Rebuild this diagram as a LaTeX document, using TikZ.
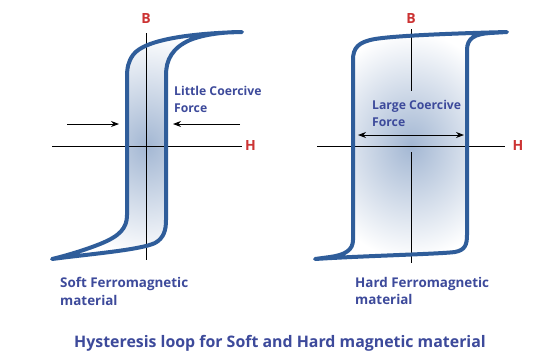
\documentclass[tikz,border=0pt]{standalone}
\usepackage{fontspec}
\setmainfont{Open Sans}
\usetikzlibrary{arrows.meta}
\definecolor{loopblue}{HTML}{2F5D9A}
\definecolor{txtblue}{HTML}{3D4A9B}
\definecolor{axred}{HTML}{CC3333}
\definecolor{shadeblue}{HTML}{A3B7D3}
\tikzset{
  axis/.style={draw=black, line width=0.9pt},
  loopline/.style={draw=loopblue, line width=4pt, line join=round, line cap=round},
  axlabel/.style={text=axred, font=\bfseries\fontsize{14}{16}\selectfont, inner sep=0pt, anchor=base},
  bluetext/.style={text=txtblue, font=\bfseries\fontsize{12.2}{16.4}\selectfont, inner sep=0pt, anchor=north west, align=left},
  sublabel/.style={text=txtblue, font=\bfseries\fontsize{13.4}{17.6}\selectfont, inner sep=0pt, anchor=north west, align=left},
  coarrow/.style={draw=black, line width=0.9pt, -{Stealth[length=8pt,width=6pt]}},
}
\begin{document}
\begin{tikzpicture}[x=1pt,y=-1pt]
\useasboundingbox[fill=white] (0,0) rectangle (560,357);
% ---------- soft loop ----------
\def\softloop{(52,259) .. controls (90,254) and (140,250) .. (155,243) .. controls (164,238) and (166,230) .. (166,220) -- (166,75) .. controls (166,60) and (172,48) .. (190,40) .. controls (205,34) and (225,32) .. (242,32) .. controls (200,33) and (145,38) .. (133,55) .. controls (128,62) and (127,68) .. (127,78) -- (127,215) .. controls (127,228) and (120,236) .. (100,244) .. controls (85,250) and (65,256) .. (52,259) -- cycle}
\shade[inner color=shadeblue, outer color=white] \softloop;
\coordinate (sBt) at (146,33);
\coordinate (sBb) at (146,260);
\coordinate (sHl) at (52,146);
\coordinate (sHr) at (242,146);
\draw[axis] (sBt) -- (sBb);
\draw[axis] (sHl) -- (sHr);
\draw[loopline] \softloop;
\node[axlabel] (sB) at (146,23.3) {B};
\node[axlabel] (sH) at (250.5,150.7) {H};
\coordinate (sA1) at (67,124);
\coordinate (sA1e) at (119,124);
\coordinate (sA2) at (240,124);
\coordinate (sA2e) at (173,124);
\draw[coarrow] (sA1) -- (sA1e);
\draw[coarrow] (sA2) -- (sA2e);
\node[bluetext] (little) at (174,86.5) {Little Coercive\\Force};
\node[sublabel] (soft) at (60,277) {Soft Ferromagnetic\\material};
% ---------- hard loop ----------
\def\hardloop{(315,259) .. controls (360,256) and (440,254) .. (455,252) .. controls (465,250) and (467,245) .. (467,235) -- (467,50) .. controls (467,38) and (475,34) .. (490,33) -- (507,32) .. controls (470,33) and (400,35) .. (375,39) .. controls (358,42) and (353,48) .. (353,60) -- (353,240) .. controls (353,250) and (345,255) .. (330,257) -- cycle}
\shade[inner color=shadeblue, outer color=white] \hardloop;
\coordinate (hBt) at (411,29);
\coordinate (hBm1) at (411,91);
\coordinate (hBm2) at (411,152);
\coordinate (hBb) at (411,263);
\coordinate (hHl) at (317,146);
\coordinate (hHr) at (505,146);
\draw[axis] (hBt) -- (hBm1);
\draw[axis] (hBm2) -- (hBb);
\draw[axis] (hHl) -- (hHr);
\draw[loopline] \hardloop;
\node[axlabel] (hB) at (411,23.3) {B};
\node[axlabel] (hH) at (518,150.5) {H};
\coordinate (hAl) at (358,135);
\coordinate (hAr) at (464,135);
\draw[coarrow, {Stealth[length=8pt,width=6pt]}-{Stealth[length=8pt,width=6pt]}] (hAl) -- (hAr);
\node[bluetext] (large) at (372,100.5) {Large Coercive\\Force};
\node[sublabel] (hard) at (355,277) {Hard Ferromagnetic\\material};
% ---------- title ----------
\node[text=txtblue, font=\bfseries\fontsize{15.9}{19}\selectfont, inner sep=0pt, anchor=base] (title) at (280,347.3) {Hysteresis loop for Soft and Hard magnetic material};
\end{tikzpicture}
\end{document}
